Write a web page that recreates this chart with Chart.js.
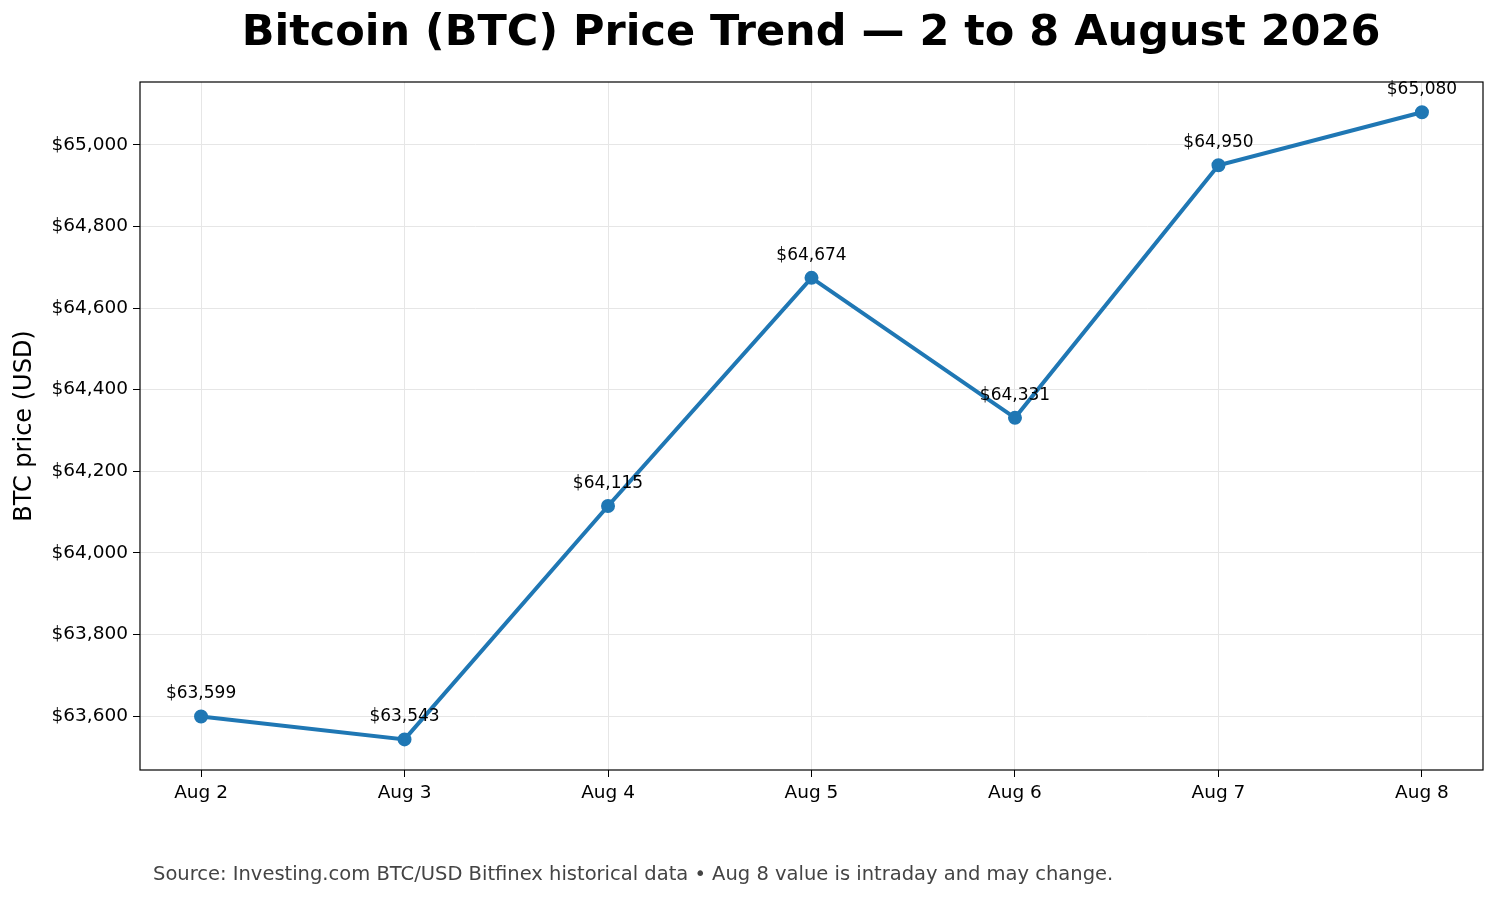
<!DOCTYPE html>
<html>
<head>
<meta charset="utf-8">
<script src="https://cdn.jsdelivr.net/npm/chart.js@4"></script>
<style>
  html, body { margin: 0; padding: 0; background: #fff; }
  #wrap { width: 1498px; height: 899px; }
</style>
</head>
<body>
<div id="wrap"><canvas id="btcChart"></canvas></div>
<script>
const dayLabels = ['Aug 2', 'Aug 3', 'Aug 4', 'Aug 5', 'Aug 6', 'Aug 7', 'Aug 8'];
const btcPrices = [63599, 63543, 64115, 64674, 64331, 64950, 65080];
const yTicks = [63600, 63800, 64000, 64200, 64400, 64600, 64800, 65000];

const fmt = v => '$' + v.toLocaleString('en-US');

// frame, title, point labels and source note
const extras = {
    id: 'extras',
    afterDatasetsDraw(chart) {
        const { ctx, chartArea: a } = chart;
        ctx.save();
        ctx.strokeStyle = '#000';
        ctx.lineWidth = 1.2;
        ctx.strokeRect(a.left, a.top, a.right - a.left, a.bottom - a.top);

        ctx.fillStyle = '#000';
        ctx.textAlign = 'center';
        ctx.textBaseline = 'bottom';
        ctx.font = '17px "DejaVu Sans"';
        chart.getDatasetMeta(0).data.forEach((pt, i) => {
            ctx.fillText(fmt(btcPrices[i]), pt.x, pt.y - 14);
        });

        ctx.font = 'bold 43px "DejaVu Sans"';
        ctx.textBaseline = 'middle';
        ctx.fillText('Bitcoin (BTC) Price Trend \u2014 2 to 8 August 2026', 811, 34);

        ctx.font = '19.5px "DejaVu Sans"';
        ctx.fillStyle = '#444';
        ctx.textAlign = 'left';
        ctx.fillText('Source: Investing.com BTC/USD Bitfinex historical data \u2022 Aug 8 value is intraday and may change.', 153, 875);
        ctx.restore();
    }
};

new Chart(document.getElementById('btcChart'), {
    type: 'line',
    data: {
        datasets: [{
            data: btcPrices.map((v, i) => ({ x: i, y: v })),
            borderColor: '#1f77b4',
            backgroundColor: '#1f77b4',
            borderWidth: 4,
            pointRadius: 5,
            pointHoverRadius: 5,
            tension: 0
        }]
    },
    options: {
        responsive: true,
        maintainAspectRatio: false,
        animation: false,
        layout: { padding: { top: 82, right: 15, bottom: 79, left: 0 } },
        plugins: { legend: { display: false }, tooltip: { enabled: false } },
        scales: {
            x: {
                type: 'linear',
                min: -0.3,
                max: 6.3,
                afterBuildTicks: ax => { ax.ticks = dayLabels.map((_, i) => ({ value: i })); },
                afterFit: ax => { ax.height = 50; },
                ticks: {
                    callback: v => dayLabels[v],
                    color: '#000',
                    font: { family: 'DejaVu Sans', size: 18.5 },
                    padding: 5
                },
                grid: { color: '#e6e6e6', tickColor: '#000', tickLength: 7 },
                border: { display: false }
            },
            y: {
                min: 63468,
                max: 65154,
                afterBuildTicks: ax => { ax.ticks = yTicks.map(v => ({ value: v })); },
                afterFit: ax => { ax.width = 140; },
                ticks: {
                    callback: v => fmt(v),
                    color: '#000',
                    font: { family: 'DejaVu Sans', size: 18.5 },
                    padding: 5
                },
                grid: { color: '#e6e6e6', tickColor: '#000', tickLength: 7 },
                border: { display: false },
                title: {
                    display: true,
                    text: 'BTC price (USD)',
                    color: '#000',
                    font: { family: 'DejaVu Sans', size: 24 },
                    padding: { top: 10, bottom: 0 }
                }
            }
        }
    },
    plugins: [extras]
});
</script>
</body>
</html>
